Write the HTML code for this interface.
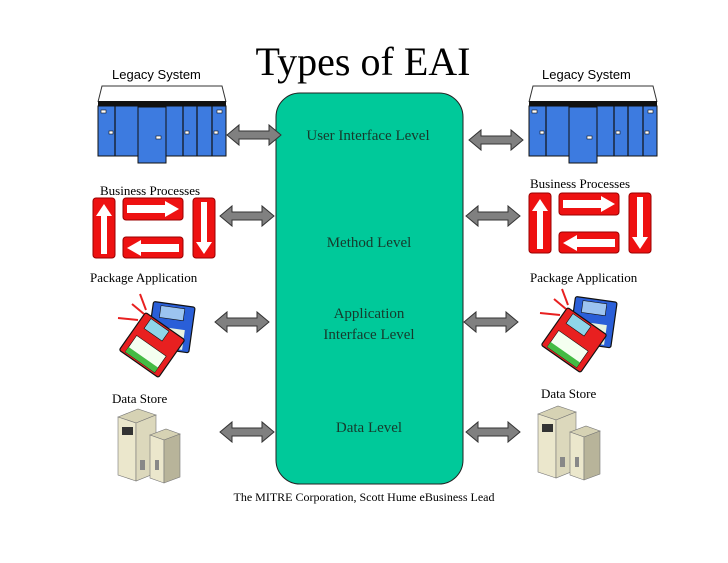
<!DOCTYPE html>
<html><head><meta charset="utf-8"><style>
html,body{margin:0;padding:0;background:#fff;}
svg{display:block;}
.s{font-family:"Liberation Sans",sans-serif;}
.r{font-family:"Liberation Serif",serif;}
</style></head><body>
<svg width="728" height="563" viewBox="0 0 728 563" xmlns="http://www.w3.org/2000/svg">
<defs>
<g id="arrow">
<polygon points="0,0 12,-10 12,-4 42,-4 42,-10 54,0 42,10 42,4 12,4 12,10" fill="#808080" stroke="#333" stroke-width="1"/>
</g>
<g id="mf">
<polyline points="0,16 4,0 124,0 128,16" fill="none" stroke="#333" stroke-width="1"/>
<rect x="0" y="15" width="128" height="5" fill="#111"/>
<rect x="40" y="15" width="28" height="6" fill="#111"/>
<rect x="0" y="20" width="128" height="50" fill="#3d7be0" stroke="#111" stroke-width="1"/>
<rect x="40" y="21" width="28" height="56" fill="#3d7be0" stroke="#111" stroke-width="1"/>
<g stroke="#111" stroke-width="1.2">
<line x1="17" y1="20" x2="17" y2="70"/><line x1="85" y1="20" x2="85" y2="70"/>
<line x1="99" y1="20" x2="99" y2="70"/><line x1="114" y1="20" x2="114" y2="70"/>
</g>
<g fill="#fff" stroke="#111" stroke-width="0.6">
<rect x="3" y="24" width="5" height="3"/><rect x="119" y="24" width="5" height="3"/>
<rect x="11" y="45" width="4" height="3"/><rect x="58" y="50" width="5" height="3"/>
<rect x="87" y="45" width="4" height="3"/><rect x="116" y="45" width="4" height="3"/>
</g>
</g>
<g id="bp">
<g fill="#ee1111" stroke="#900" stroke-width="1">
<rect x="0" y="0" width="22" height="60" rx="3"/>
<rect x="30" y="0" width="60" height="22" rx="3"/>
<rect x="30" y="39" width="60" height="21" rx="3"/>
<rect x="100" y="0" width="22" height="60" rx="3"/>
</g>
<g fill="#fff">
<polygon points="11,6 19,18 14,18 14,56 8,56 8,18 3,18"/>
<polygon points="34,7 72,7 72,3 86,11 72,19 72,15 34,15"/>
<polygon points="86,46 48,46 48,42 34,50 48,58 48,54 86,54"/>
<polygon points="111,56 119,44 114,44 114,4 108,4 108,44 103,44"/>
</g>
</g>
<g id="fl">
<g transform="rotate(8 60 38)">
<rect x="40" y="14" width="42" height="46" rx="2" fill="#2a5fd8" stroke="#111" stroke-width="1.2"/>
<rect x="48" y="17" width="24" height="12" fill="#9cc4f0" stroke="#111" stroke-width="0.6"/>
<rect x="47" y="38" width="28" height="20" fill="#e8f4e0"/>
</g>
<g transform="rotate(35 42 55)">
<rect x="18" y="32" width="48" height="46" rx="2" fill="#e82020" stroke="#111" stroke-width="1.2"/>
<rect x="26" y="34" width="22" height="12" fill="#8fd4e8" stroke="#111" stroke-width="0.6"/>
<rect x="24" y="56" width="36" height="20" fill="#f4fff0" stroke="#111" stroke-width="0.6"/>
<rect x="24" y="70" width="36" height="6" fill="#44bb44"/>
</g>
<g stroke="#e82020" stroke-width="2">
<line x1="22" y1="14" x2="34" y2="24"/><line x1="30" y1="4" x2="36" y2="20"/><line x1="8" y1="28" x2="28" y2="30"/>
</g>
</g>
<g id="ds">
<polygon points="8,12 28,4 46,10 26,18" fill="#d6d2b4" stroke="#777" stroke-width="0.6"/>
<polygon points="8,12 26,18 26,76 8,70" fill="#ebe7cc" stroke="#777" stroke-width="0.6"/>
<polygon points="26,18 46,10 46,68 26,76" fill="#dcd8bc" stroke="#777" stroke-width="0.6"/>
<rect x="12" y="22" width="11" height="8" fill="#333"/>
<polygon points="40,30 56,24 70,29 54,35" fill="#d6d2b4" stroke="#777" stroke-width="0.6"/>
<polygon points="40,30 54,35 54,78 40,73" fill="#ebe7cc" stroke="#777" stroke-width="0.6"/>
<polygon points="54,35 70,29 70,72 54,78" fill="#b8b49a" stroke="#777" stroke-width="0.6"/>
<rect x="30" y="55" width="5" height="10" fill="#888"/><rect x="45" y="55" width="4" height="10" fill="#888"/>
</g>
</defs>

<rect x="276" y="93" width="187" height="391" rx="24" fill="#00c99a" stroke="#222" stroke-width="1"/>

<text x="363" y="75" text-anchor="middle" class="r" font-size="40">Types of EAI</text>
<text x="112" y="79" class="s" font-size="13">Legacy System</text>
<text x="542" y="79" class="s" font-size="13">Legacy System</text>

<use href="#mf" x="98" y="86"/>
<use href="#mf" x="529" y="86"/>

<text x="100" y="195" class="r" font-size="13">Business Processes</text>
<text x="530" y="188" class="r" font-size="13">Business Processes</text>
<use href="#bp" x="93" y="198"/>
<use href="#bp" x="529" y="193"/>

<text x="90" y="282" class="r" font-size="13">Package Application</text>
<text x="530" y="282" class="r" font-size="13">Package Application</text>
<use href="#fl" x="110" y="290"/>
<use href="#fl" x="532" y="285"/>

<text x="112" y="403" class="r" font-size="13">Data Store</text>
<text x="541" y="398" class="r" font-size="13">Data Store</text>
<use href="#ds" x="110" y="405"/>
<use href="#ds" x="530" y="402"/>

<use href="#arrow" x="227" y="135"/>
<use href="#arrow" x="220" y="216"/>
<use href="#arrow" x="215" y="322"/>
<use href="#arrow" x="220" y="432"/>
<use href="#arrow" x="469" y="140"/>
<use href="#arrow" x="466" y="216"/>
<use href="#arrow" x="464" y="322"/>
<use href="#arrow" x="466" y="432"/>

<g class="r" font-size="15" fill="#163a2c" text-anchor="middle">
<text x="368" y="140">User Interface Level</text>
<text x="369" y="247">Method Level</text>
<text x="369" y="318">Application</text>
<text x="369" y="339">Interface Level</text>
<text x="369" y="432">Data Level</text>
</g>
<text x="364" y="501" text-anchor="middle" class="r" font-size="12">The MITRE Corporation, Scott Hume eBusiness Lead</text>
</svg>
</body></html>
